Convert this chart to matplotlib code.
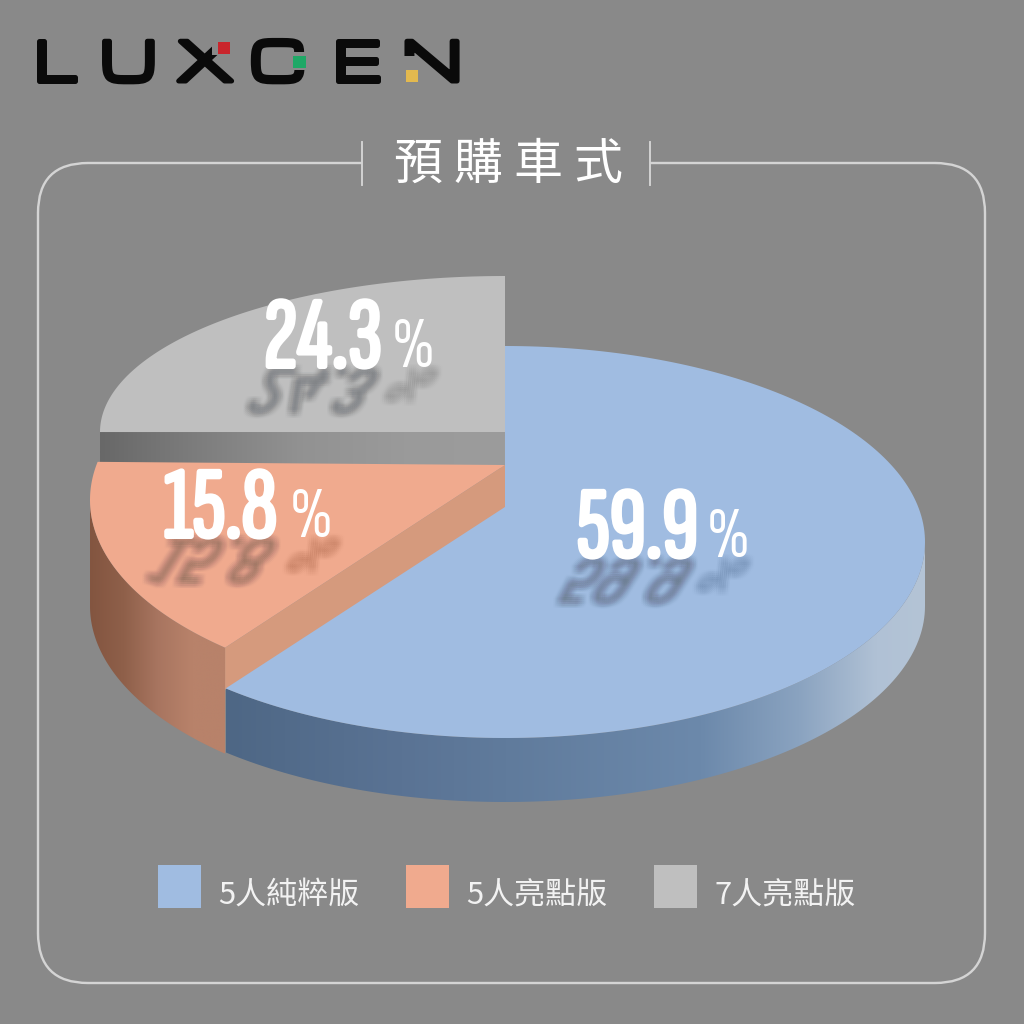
"""LUXGEN pre-order split: 3D style pie on a gray card."""

import matplotlib as mpl
import matplotlib.patheffects as pe
import matplotlib.pyplot as plt
import numpy as np
from matplotlib.colors import LinearSegmentedColormap
from matplotlib.font_manager import FontProperties
from matplotlib.patches import FancyBboxPatch, PathPatch, Polygon, Rectangle
from matplotlib.textpath import TextPath
from matplotlib.transforms import Affine2D

# === Data ===
title = "預 購 車 式"
categories = ["5人純粹版", "5人亮點版", "7人亮點版"]
shares = [59.9, 15.8, 24.3]

BG = "#898989"
TOPS = ["#A0BCE1", "#F0AA8E", "#BFBFBF"]
INNER_WALL = "#D59A7D"
PX = 0.72  # points per pixel at dpi=100

NARROW = ["Sofia Sans Extra Condensed", "Fira Sans Extra Condensed", "Roboto"]
WIDE = ["Michroma", "DejaVu Sans"]
CJK = ["Noto Sans CJK TC", "DejaVu Sans"]
mpl.rcParams["font.family"] = CJK
mpl.rcParams["font.sans-serif"] = CJK[:1]

fig = plt.figure(figsize=(10.24, 10.24), dpi=100, facecolor=BG)
ax = fig.add_axes([0, 0, 1, 1])
ax.set_facecolor(BG)


def arc(cx, cy, rx, ry, start, sweep):
    t = np.radians(np.linspace(start, start + sweep, 200))
    return np.column_stack([cx + rx * np.cos(t), cy - ry * np.sin(t)])


def gradient_wall(xy, stops, zorder):
    cmap = LinearSegmentedColormap.from_list("wall", stops)
    x0, x1 = xy[:, 0].min(), xy[:, 0].max()
    y0, y1 = xy[:, 1].min(), xy[:, 1].max()
    clip = Polygon(xy, closed=True, transform=ax.transData, fc="none", ec="none")
    ax.add_patch(clip)
    im = ax.imshow(np.linspace(0, 1, 256)[None, :], cmap=cmap, extent=(x0, x1, y1, y0),
                   aspect="auto", interpolation="bilinear", zorder=zorder)
    im.set_clip_path(clip)


# Card frame with a gap behind the title
frame = FancyBboxPatch((38 + 50, 163 + 50), 947 - 100, 820 - 100,
                       boxstyle="round,pad=50,rounding_size=50",
                       fc="none", ec="#D4D4D4", lw=2.0 * PX * 1.2, zorder=1)
ax.add_patch(frame)
ax.add_patch(Rectangle((362, 150), 288, 26, fc=BG, ec="none", zorder=2))
for x in (362, 650):
    ax.plot([x, x], [142, 185], color="#D4D4D4", lw=1.9 * PX, zorder=3)
ax.text(508, 165, title, color="white", fontsize=49 * PX, ha="center", va="center",
        fontweight="light", zorder=3)

# --- Wedges. Each slice has its own ellipse, sweep comes from the share ---
sweep_gray = shares[2] * 3.6 * 1.029
sweep_orange = shares[1] * 3.6 * 1.03
sweep_blue = shares[0] * 3.6 * 1.028

# gray slice
gray_arc = arc(505, 432, 405, 156, 90, sweep_gray)
gray_wall = np.array([[100, 430], [505, 432], [505, 468], [100, 468]], dtype=float)
gradient_wall(gray_wall, ["#686868", "#7E7E7E", "#929292", "#9A9A9A", "#9C9C9C"], 4)
ax.add_patch(Polygon(np.vstack([[505, 432], gray_arc]), closed=True, fc=TOPS[2], ec="none", zorder=5))

# orange slice
orange_arc = arc(505, 500, 415, 200, 169, sweep_orange)
side = orange_arc[orange_arc[:, 1] >= 498]
orange_wall = np.vstack([side, side[::-1] + [0, 106]])
gradient_wall(orange_wall, ["#835540", "#8F604A", "#A87560", "#B8826A", "#B8826A"], 6)
corner = orange_arc[-1]
ax.add_patch(Polygon([[505, 465], corner, corner + [0, 42], [505, 509]], closed=True,
                     fc=INNER_WALL, ec="none", zorder=7))
ax.add_patch(Polygon(np.vstack([[505, 465], orange_arc]), closed=True, fc=TOPS[1], ec="none", zorder=8))

# blue slice
blue_arc = arc(505, 542, 420, 196, 90, -sweep_blue)
side = blue_arc[blue_arc[:, 1] >= 540]
blue_wall = np.vstack([side, side[::-1] + [0, 64]])
gradient_wall(blue_wall, [(0, "#4E6785"), (0.25, "#5A7394"), (0.40, "#607B9C"), (0.68, "#6C89AB"),
                          (0.82, "#8AA3C0"), (0.93, "#B0C1D5"), (1, "#B4C4D6")], 9)
ax.add_patch(Polygon(np.vstack([[505, 507], blue_arc]), closed=True, fc=TOPS[0], ec="none", zorder=10))

# --- Percent labels with blurred mirror shadows ---
label_pos = [(577, 557), (164, 537), (264, 367)]
pct_x = [707, 290, 392]
shadow_x = [580, 170, 268]
fp = FontProperties(family=NARROW)
DIGIT_PX = 101
PCT_PX = 73


def shadow(s, x, base, size, alpha, zorder):
    path = TextPath((0, 0), s, size=size, prop=fp)
    tf = Affine2D.from_values(1.0, 0, -0.42, 0.66, x, base)
    for dx in np.linspace(-4, 4, 5):
        for dy in np.linspace(-4, 4, 5):
            ax.add_patch(PathPatch(path, transform=tf + Affine2D().translate(dx, dy) + ax.transData,
                                   fc="#3A3F46", ec="#3A3F46", lw=2, alpha=alpha, zorder=zorder))


bold = [pe.withStroke(linewidth=4.0 * PX, foreground="white")]
for value, (x, y), px, sx in zip(shares, label_pos, pct_x, shadow_x):
    txt = f"{value}"
    shadow(txt, sx, y + 2, DIGIT_PX, 0.012, 11)
    shadow("%", sx + 132, y + 2, PCT_PX, 0.004, 11)
    t = ax.text(x, y, txt, color="white", fontsize=DIGIT_PX * PX, family=NARROW,
                ha="left", va="baseline", zorder=12)
    t.set_path_effects(bold)
    ax.text(px, y, "%", color="white", fontsize=PCT_PX * PX, family=NARROW,
            ha="left", va="baseline", zorder=12)

# --- Legend ---
legend_x = [158, 406, 654]
for cat, color, x in zip(categories, TOPS, legend_x):
    ax.add_patch(Rectangle((x, 865), 43, 43, fc=color, ec="none", zorder=3))
    ax.text(x + 60, 895, cat, color="#F2F2F2", fontsize=31 * PX, ha="left", va="center", zorder=3)

# --- Logo ---
logo_letters = ["L", "U", "X", "G", "E", "N"]
logo_x = [34, 101, 177, 250, 333, 402]
for ch, x in zip(logo_letters, logo_x):
    t = ax.text(x, 81, ch, color="#0A0A0A", fontsize=53 * PX, family=WIDE,
                ha="left", va="baseline", zorder=3)
    t.set_path_effects([pe.withStroke(linewidth=5.0 * PX, foreground="#0A0A0A")])
# the logo cuts parts of X, G and N for its coloured squares
ax.add_patch(Rectangle((212, 36), 24, 19, fc=BG, ec="none", zorder=4))
ax.add_patch(Rectangle((272, 52), 38, 18, fc=BG, ec="none", zorder=4))
ax.add_patch(Rectangle((400, 56), 18, 30, fc=BG, ec="none", zorder=4))
ax.add_patch(Rectangle((218, 42), 12, 12, fc="#C9252C", ec="none", zorder=5))
ax.add_patch(Rectangle((293, 56), 13, 12, fc="#1FA866", ec="none", zorder=5))
ax.add_patch(Rectangle((406, 70), 12, 12, fc="#E3B94F", ec="none", zorder=5))

ax.set_xlim(0, 1024)
ax.set_ylim(1024, 0)
ax.axis("off")

fig.savefig("out.png", dpi=100, facecolor=BG)
plt.close(fig)
